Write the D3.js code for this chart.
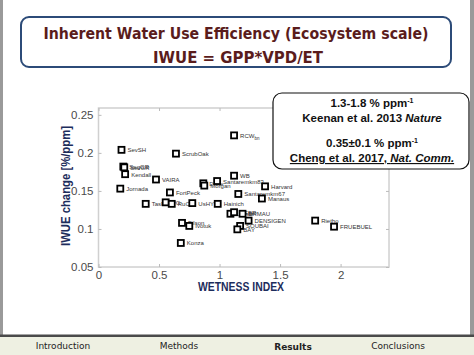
<!DOCTYPE html>
<html><head><meta charset="utf-8">
<script src="https://cdn.jsdelivr.net/npm/d3@7"></script>
<style>html,body{margin:0;padding:0;background:#fff;overflow:hidden}</style>
</head><body>
<svg id="c" width="474" height="355"></svg>
<script>
const sites = ["SevSH","ScrubOak","RCW","SegGR","SevGR","Kendall","VAIRA","WB","Jornada","FortPeck","TasF","PG","RuCa","UsHYT","Hainich","Lethbr","KEBR","BRMAU","Bilson","Ivotuk","Konza","Duke","Morgan","Santaremkm83","Harvard","Santaremkm67","Manaus","DENSIGEN","SOUBAI","BAY","Rietho","FRUEBUEL"];
const wetness = [0.19,0.64,1.12,0.205,0.213,0.22,0.475,1.12,0.18,0.59,0.39,0.555,0.605,0.775,0.985,1.09,1.12,1.19,0.69,0.75,0.68,0.866,0.874,0.98,1.376,1.155,1.35,1.24,1.17,1.147,1.79,1.946];
const iwue = [0.204,0.199,0.223,0.182,0.181,0.172,0.165,0.170,0.153,0.148,0.133,0.135,0.133,0.134,0.133,0.120,0.122,0.120,0.108,0.104,0.0816,0.160,0.157,0.163,0.156,0.146,0.140,0.111,0.104,0.0995,0.111,0.103];
const xTicks = [0,0.5,1,1.5,2];
const yTicks = [0.05,0.1,0.15,0.2,0.25];
const xLabels = ["0","0.5","1","1.5","2"];
const yLabels = ["0.05","0.1","0.15","0.2","0.25"];
const navItems = ["Introduction","Methods","Results","Conclusions"];

const svg = d3.select("#c");
svg.append("rect").attr("x",0).attr("y",0).attr("width",3).attr("height",336).attr("fill","#9a9a9a");
svg.append("rect").attr("x",470).attr("y",0).attr("width",4).attr("height",336).attr("fill","#9a9a9a");

svg.append("rect").attr("x",21).attr("y",17).attr("width",430).attr("height",50).attr("rx",8)
  .attr("fill","#fff").attr("stroke","#2c4b78").attr("stroke-width",2);
svg.append("text").attr("x",236).attr("y",39).attr("text-anchor","middle")
  .attr("font-family","DejaVu Sans").attr("font-weight","bold").attr("font-size",15)
  .attr("fill","#5a1c1c").attr("textLength",385).attr("lengthAdjust","spacingAndGlyphs")
  .text("Inherent Water Use Efficiency (Ecosystem scale)");
svg.append("text").attr("x",238).attr("y",63).attr("text-anchor","middle")
  .attr("font-family","DejaVu Sans").attr("font-weight","bold").attr("font-size",15)
  .attr("fill","#5a1c1c").attr("textLength",170).attr("lengthAdjust","spacingAndGlyphs")
  .text("IWUE = GPP*VPD/ET");

const x = d3.scaleLinear().domain([0,2.4]).range([98.5,389]);
const y = d3.scaleLinear().domain([0.05,0.259]).range([267,108]);
const g = svg.append("g");
g.append("rect").attr("x",x(0)).attr("y",y(0.259)).attr("width",x(2.4)-x(0)).attr("height",y(0.05)-y(0.259))
  .attr("fill","none").attr("stroke","#d0d0d0").attr("stroke-width",1.5);
const xa = g.append("g").attr("transform",`translate(0,${y(0.05)})`)
  .call(d3.axisBottom(x).tickValues(xTicks).tickSize(-3).tickFormat((d,i)=>xLabels[i]).tickPadding(4));
const xt = g.append("g").attr("transform",`translate(0,${y(0.259)})`)
  .call(d3.axisTop(x).tickValues(xTicks).tickSize(-3).tickFormat(""));
const ya = g.append("g").attr("transform",`translate(${x(0)},0)`)
  .call(d3.axisLeft(y).tickValues(yTicks).tickSize(-3).tickFormat((d,i)=>yLabels[i]).tickPadding(5));
const yr = g.append("g").attr("transform",`translate(${x(2.4)},0)`)
  .call(d3.axisRight(y).tickValues(yTicks).tickSize(-3).tickFormat(""));
[xa,xt,ya,yr].forEach(a=>{
  a.select(".domain").remove();
  a.selectAll("line").attr("stroke","#bbb");
  a.selectAll("text").attr("font-family","Liberation Sans, Arial").attr("font-size",11.5).attr("fill","#4a4a4a");
});

svg.append("text").attr("x",241).attr("y",291).attr("text-anchor","middle")
  .attr("font-family","Liberation Sans, Arial").attr("font-weight","bold").attr("font-size",12)
  .attr("fill","#1d2d5c").attr("textLength",86).attr("lengthAdjust","spacingAndGlyphs").text("WETNESS INDEX");
svg.append("text").attr("transform","translate(70,186) rotate(-90)").attr("text-anchor","middle")
  .attr("font-family","Liberation Sans, Arial").attr("font-weight","bold").attr("font-size",12)
  .attr("fill","#1d2d5c").attr("textLength",120).attr("lengthAdjust","spacingAndGlyphs").text("IWUE  change [%/ppm]");

const data = sites.map((s,i)=>({s, wx:wetness[i], v:iwue[i]}));
const pts = g.selectAll("g.pt").data(data).enter().append("g").attr("class","pt")
  .attr("transform",d=>`translate(${x(d.wx)},${y(d.v)})`);
pts.append("text").attr("x",6).attr("y",2.5).attr("font-family","Liberation Sans, Arial")
  .attr("font-size",6).attr("fill","#333")
  .each(function(d){
    const t=d3.select(this);
    if(d.s==="RCW"){ t.text("RCW"); t.append("tspan").attr("dy",2).attr("font-size",4.5).text("bn"); }
    else t.text(d.s);
  });
pts.append("rect").attr("x",-3).attr("y",-3).attr("width",6).attr("height",6)
  .attr("fill","#fff").attr("stroke","#000").attr("stroke-width",1.8);

svg.append("rect").attr("x",273).attr("y",93).attr("width",196).attr("height",76).attr("rx",9)
  .attr("fill","#fff").attr("stroke","#111").attr("stroke-width",1.2);
function cline(yy, parts){
  const t = svg.append("text").attr("x",372).attr("y",yy).attr("text-anchor","middle")
    .attr("font-family","Liberation Sans, Arial").attr("font-weight","bold").attr("font-size",11.5).attr("fill","#111");
  parts.forEach(p=>{
    const ts=t.append("tspan").text(p.t);
    if(p.it) ts.attr("font-style","italic");
    if(p.sup){ ts.attr("font-size",7).attr("dy",-4); }
    if(p.ul) ts.attr("text-decoration","underline");
  });
  return t;
}
cline(107,[{t:"1.3-1.8 % ppm"},{t:"-1",sup:true}]);
cline(122,[{t:"Keenan et al. 2013  "},{t:"Nature",it:true}]);
cline(147,[{t:"0.35±0.1 % ppm"},{t:"-1",sup:true}]);
cline(162,[{t:"Cheng et al. 2017, ",ul:true},{t:"Nat. Comm.",it:true,ul:true}]);

svg.append("rect").attr("x",0).attr("y",337).attr("width",474).attr("height",18).attr("fill","#eef0e2");
svg.append("rect").attr("x",0).attr("y",334.5).attr("width",474).attr("height",2.5).attr("fill","#4a4a4a");
const navX = [63,179,293,398];
svg.selectAll("text.nav").data(navItems).enter().append("text").attr("class","nav")
  .attr("x",(d,i)=>navX[i]).attr("y",(d,i)=>i===2?350:349).attr("text-anchor","middle")
  .attr("font-family","DejaVu Sans").attr("font-size",9).attr("fill","#222")
  .attr("font-weight",(d,i)=>i===2?"bold":"normal").text(d=>d);
</script>
</body></html>
